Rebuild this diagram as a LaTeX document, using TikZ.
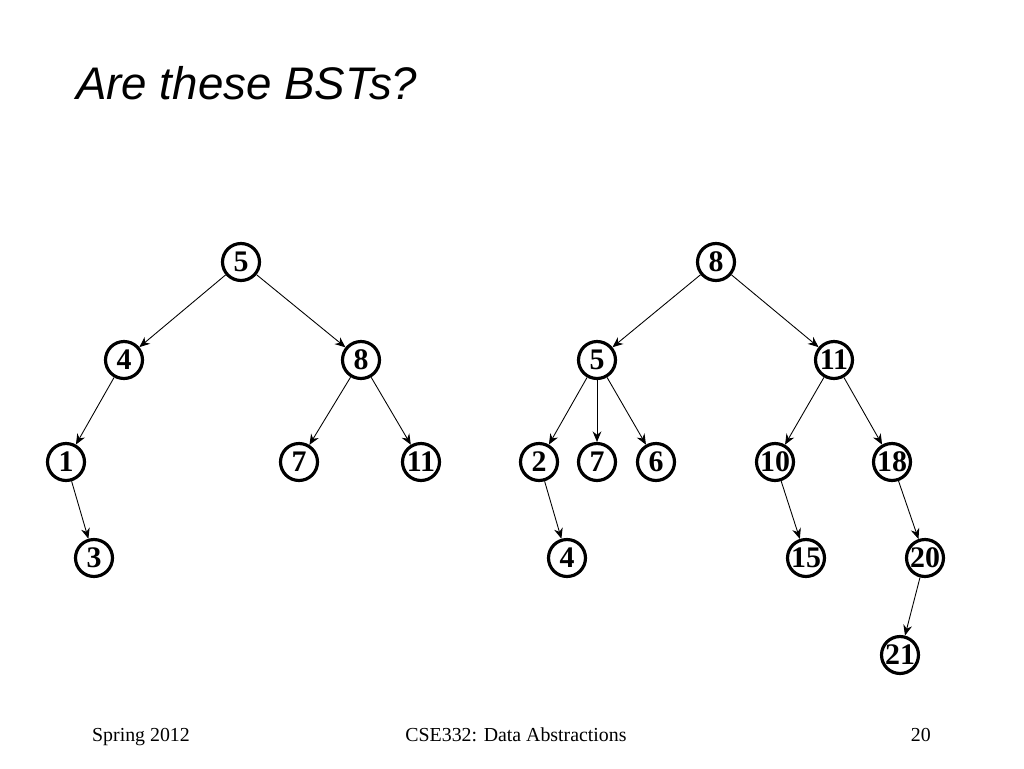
\documentclass[tikz,border=0pt]{standalone}
\usepackage{fontspec}
\setmainfont{Liberation Serif}
\newfontfamily\titlefont{Liberation Sans}
\usetikzlibrary{arrows.meta}

\begin{document}
\begin{tikzpicture}[x=0.02cm, y=-0.02cm]
	% Setup the style for the tree nodes
	\tikzset{key/.style={circle, draw, line width=1.8pt, minimum size=0.74cm,
			inner sep=0pt, font=\bfseries\fontsize{17}{17}\selectfont},
		link/.style={-{Stealth[length=6pt,width=5pt]}, line width=0.5pt}}
	\useasboundingbox (0,0) rectangle (1024,768);
	
	\node[anchor=base west, font=\titlefont\itshape\fontsize{26}{26}\selectfont] (title) at (70,99) {Are these BSTs?};
	
	% first tree
	\node[key] (a5)  at (241,262) {5};
	\node[key] (a4)  at (124,360) {4};
	\node[key] (a8)  at (361,360) {8};
	\node[key] (a1)  at (66,462)  {1};
	\node[key] (a7)  at (299,462) {7};
	\node[key] (a11) at (421,462) {11};
	\node[key] (a3)  at (94,558)  {3};
	
	% second tree
	\node[key] (b8)  at (716,262) {8};
	\node[key] (b5)  at (597,360) {5};
	\node[key] (b11) at (834,360) {11};
	\node[key] (b2)  at (539,462) {2};
	\node[key] (b7)  at (597,462) {7};
	\node[key] (b6)  at (656,462) {6};
	\node[key] (b10) at (775,462) {10};
	\node[key] (b18) at (892,462) {18};
	\node[key] (b4)  at (567,558) {4};
	\node[key] (b15) at (806,558) {15};
	\node[key] (b20) at (925,558) {20};
	\node[key] (b21) at (900,655) {21};
	
	\foreach \p/\c in {a5/a4, a5/a8, a4/a1, a8/a7, a8/a11, a1/a3,
		b8/b5, b8/b11, b5/b2, b5/b7, b5/b6, b11/b10, b11/b18,
		b2/b4, b10/b15, b18/b20, b20/b21}
		\draw[link] (\p) -- (\c);
	
	\node[font=\fontsize{11.3}{11.3}\selectfont, anchor=base west] (foot1) at (86,741) {Spring 2012};
	\node[font=\fontsize{11.3}{11.3}\selectfont, anchor=base] (foot2) at (516,741) {CSE332: Data Abstractions};
	\node[font=\fontsize{11.3}{11.3}\selectfont, anchor=base east] (foot3) at (937,741) {20};
\end{tikzpicture}
\end{document}
